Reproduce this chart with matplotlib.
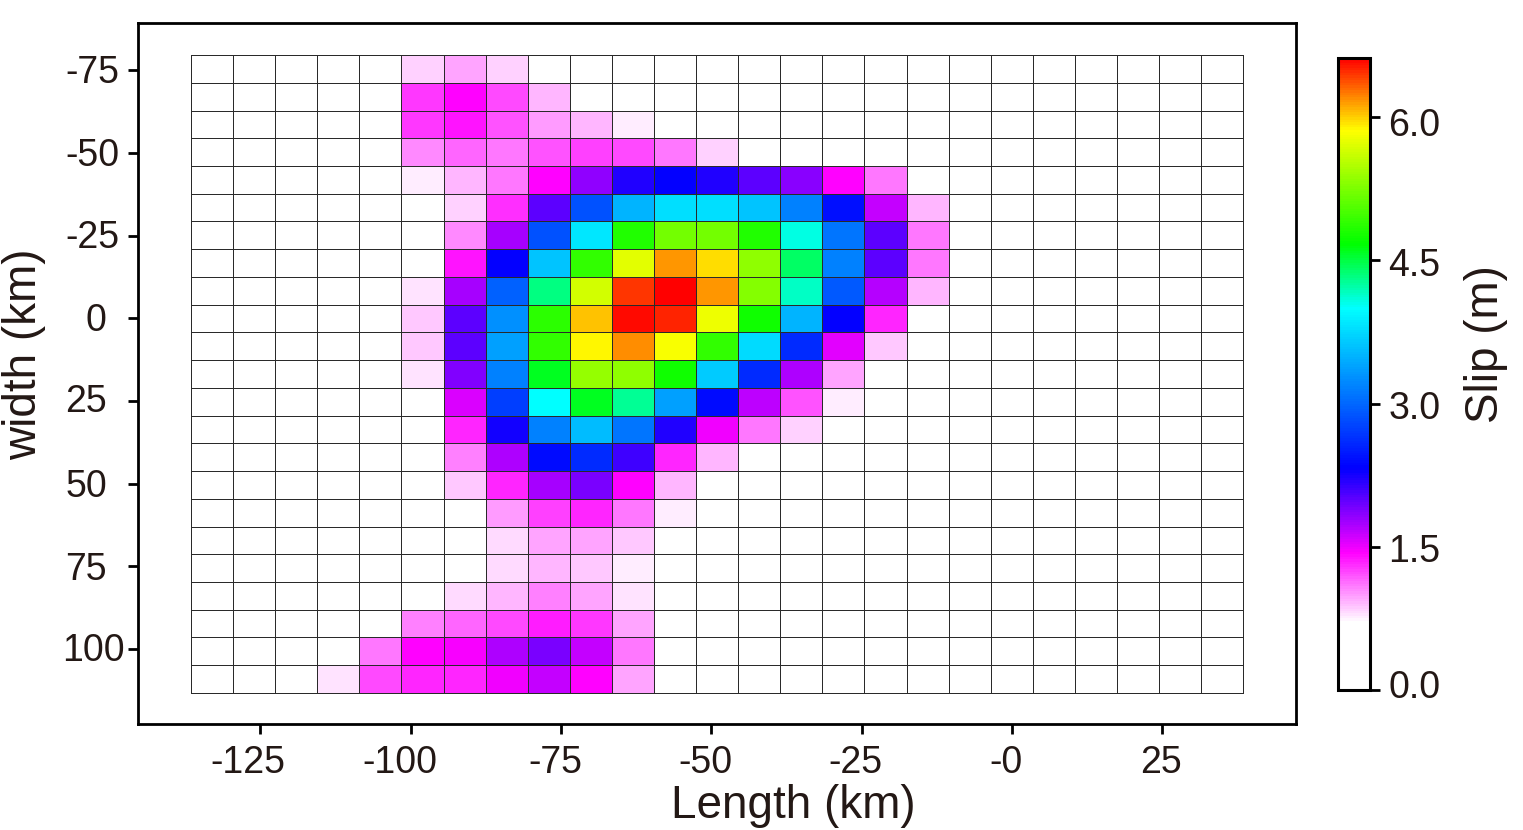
import numpy as np
import matplotlib
matplotlib.use("Agg")
import matplotlib.pyplot as plt
from matplotlib.colors import LinearSegmentedColormap
from matplotlib.transforms import ScaledTranslation

plt.rcParams['font.family'] = ['Liberation Sans', 'DejaVu Sans']
TXT = '#231815'

# slip (m), one row per line, down-dip from top; 25 columns
slip_rows = [
 [0,0,0,0,0,.85,.98,.83,0,0,0,0,0,0,0,0,0,0,0,0,0,0,0,0,0],
 [0,0,0,0,0,1.28,1.43,1.22,.92,0,0,0,0,0,0,0,0,0,0,0,0,0,0,0,0],
 [0,0,0,0,0,1.28,1.39,1.2,.99,.92,.75,0,0,0,0,0,0,0,0,0,0,0,0,0,0],
 [0,0,0,0,0,1.05,1.14,1.1,1.2,1.25,1.22,1.1,.85,0,0,0,0,0,0,0,0,0,0,0,0],
 [0,0,0,0,0,.76,.92,1.1,1.43,1.82,2.2,2.32,2.2,2.0,1.85,1.43,1.1,0,0,0,0,0,0,0,0],
 [0,0,0,0,0,0,.84,1.3,2.0,2.85,3.5,3.8,3.8,3.6,3.16,2.42,1.65,.93,0,0,0,0,0,0,0],
 [0,0,0,0,0,0,1.05,1.75,2.85,3.85,4.82,5.2,5.2,4.82,4.08,3.1,2.0,1.1,0,0,0,0,0,0,0],
 [0,0,0,0,0,0,1.38,2.32,3.6,4.9,5.72,6.18,5.95,5.35,4.42,3.16,2.0,1.1,0,0,0,0,0,0,0],
 [0,0,0,0,0,.8,1.75,2.95,4.34,5.65,6.45,6.62,6.18,5.3,4.15,2.9,1.7,.92,0,0,0,0,0,0,0],
 [0,0,0,0,0,.87,2.0,3.28,4.87,6.03,6.58,6.5,5.78,4.75,3.5,2.32,1.32,0,0,0,0,0,0,0,0],
 [0,0,0,0,0,.87,2.0,3.38,4.9,5.88,6.2,5.82,4.9,3.75,2.6,1.55,.87,0,0,0,0,0,0,0,0],
 [0,0,0,0,0,.8,1.87,3.16,4.6,5.37,5.35,4.75,3.65,2.6,1.72,.98,0,0,0,0,0,0,0,0,0],
 [0,0,0,0,0,.72,1.57,2.74,4.0,4.6,4.28,3.38,2.4,1.68,1.2,.75,0,0,0,0,0,0,0,0,0],
 [0,0,0,0,0,0,1.32,2.25,3.16,3.55,3.1,2.2,1.49,1.1,.84,0,0,0,0,0,0,0,0,0,0],
 [0,0,0,0,0,0,1.07,1.72,2.4,2.6,2.12,1.33,.93,0,0,0,0,0,0,0,0,0,0,0,0],
 [0,0,0,0,0,0,.87,1.33,1.75,1.9,1.43,.93,0,0,0,0,0,0,0,0,0,0,0,0,0],
 [0,0,0,0,0,0,0,1.0,1.25,1.33,1.1,.77,0,0,0,0,0,0,0,0,0,0,0,0,0],
 [0,0,0,0,0,0,0,.82,.98,.98,.87,0,0,0,0,0,0,0,0,0,0,0,0,0,0],
 [0,0,0,0,0,0,0,.82,.93,.87,.75,0,0,0,0,0,0,0,0,0,0,0,0,0,0],
 [0,0,0,0,0,0,.82,.93,1.07,.98,.8,0,0,0,0,0,0,0,0,0,0,0,0,0,0],
 [0,0,0,0,0,1.07,1.15,1.22,1.36,1.28,.98,0,0,0,0,0,0,0,0,0,0,0,0,0,0],
 [0,0,0,0,1.1,1.43,1.45,1.72,1.9,1.65,1.1,0,0,0,0,0,0,0,0,0,0,0,0,0,0],
 [0,0,0,.8,1.22,1.33,1.32,1.48,1.65,1.43,.98,0,0,0,0,0,0,0,0,0,0,0,0,0,0],
]
x_edges_km = [-136.5, 38.45]
y_edges_km = [-79.6, 113.3]
x_ticks = [-125, -100, -75, -50, -25, 0, 25]
x_tick_labels = ['-125', '-100', '-75', '-50', '-25', '-0', '25']
y_ticks = [-75, -50, -25, 0, 25, 50, 75, 100]
y_tick_labels = ['-75', '-50', '-25', '0', '25', '50', '75', '100']
cbar_ticks = [0.0, 1.5, 3.0, 4.5, 6.0]
cbar_nodes = [(0.0, '#ffffff'), (0.70, '#ffffff'), (1.43, '#ff00ff'), (2.32, '#0000ff'),
              (4.0, '#00ffff'), (4.68, '#00ff00'), (5.87, '#ffff00'), (6.62, '#ff0000')]

W, H = 1523, 830
slip = np.array(slip_rows)
vmax = 6.62
cmap = LinearSegmentedColormap.from_list('slip', [(v / vmax, c) for v, c in cbar_nodes], N=256)

fig = plt.figure(figsize=(W / 100, H / 100), dpi=100)
def box(l, t, r, b):
    return [l / W, 1 - b / H, (r - l) / W, (b - t) / H]
def shift(label, dx_px, dy_px):
    label.set_transform(label.get_transform() +
                        ScaledTranslation(dx_px / 100, dy_px / 100, fig.dpi_scale_trans))

ax = fig.add_axes(box(138, 23, 1296, 724))
xe = np.linspace(x_edges_km[0], x_edges_km[1], slip.shape[1] + 1)
ye = np.linspace(y_edges_km[0], y_edges_km[1], slip.shape[0] + 1)
mesh = ax.pcolormesh(xe, ye, slip, cmap=cmap, vmin=0, vmax=vmax,
                     edgecolors='#2a2a2a', linewidth=0.7)
ax.set_xlim(-145.3, 47.2)
ax.set_ylim(122.7, -89.3)
ax.set_xticks(x_ticks, x_tick_labels)
ax.set_yticks(y_ticks, y_tick_labels)
ax.tick_params(axis='both', length=7.2, width=2, color='black', labelsize=27, labelcolor=TXT)
ax.tick_params(axis='x', pad=8)
ax.tick_params(axis='y', pad=0)
for s in ax.spines.values():
    s.set_linewidth(2)
# the original's tick labels sit off their ticks by varying amounts
for lab, dx in zip(ax.get_xticklabels(), [-12.5, -11, -6, -6, -6, -6, -1]):
    shift(lab, dx, 0)
y_label_centres = [92.5, 92.5, 92.5, 96, 86, 86, 86, 93]
y_label_dy = [1, 1, 2, 1, 3, 1, 0, 2]
for lab, c, dy in zip(ax.get_yticklabels(), y_label_centres, y_label_dy):
    lab.set_ha('center')
    shift(lab, c - 128, dy)

fig.text(793 / W, 1 - 806 / H, 'Length (km)', fontsize=33, color=TXT, ha='center', va='center')
fig.text(24 / W, 1 - 354 / H, 'width (km)', fontsize=33, color=TXT, ha='center', va='center', rotation=90)

cax = fig.add_axes(box(1338, 58, 1370, 690))
cb = fig.colorbar(mesh, cax=cax, ticks=cbar_ticks)
cb.ax.set_yticklabels([f'{v:.1f}' for v in cbar_ticks])
cb.ax.tick_params(length=7.2, width=2, color='black', labelsize=27, labelcolor=TXT, pad=6)
cb.outline.set_linewidth(2.2)
for lab, dy in zip(cb.ax.get_yticklabels(), [6, -1, -1, -2, -5]):
    shift(lab, 0, dy)
fig.text(1486 / W, 1 - 344 / H, 'Slip (m)', fontsize=33, color=TXT, ha='center', va='center', rotation=90)

fig.savefig('out.png', dpi=100)
